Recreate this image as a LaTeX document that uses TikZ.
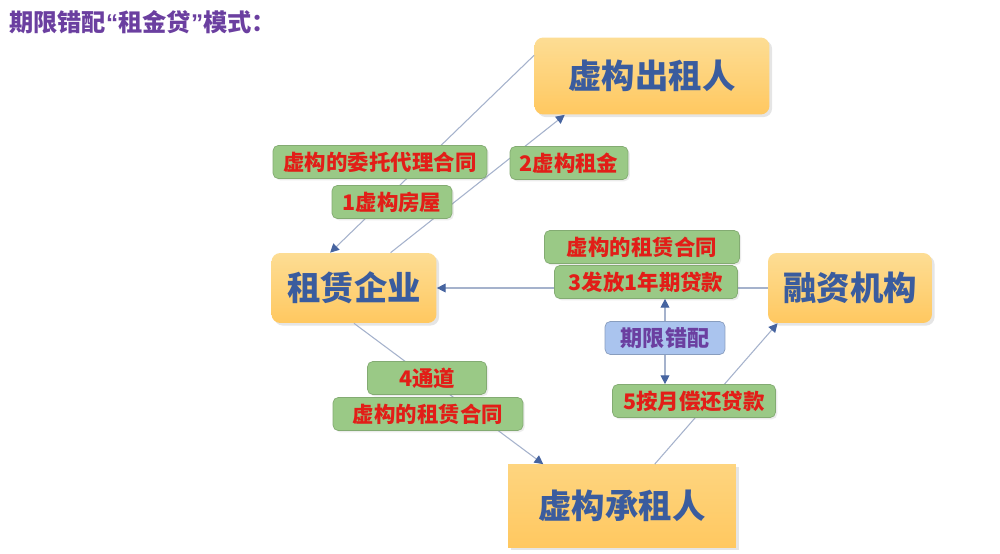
\documentclass[tikz,border=0pt]{standalone}
\usepackage{fontspec}
\setmainfont{Noto Sans CJK SC}
\newfontfamily\latinq{Liberation Sans}
\usetikzlibrary{arrows.meta,shadows}
\definecolor{titlepurple}{RGB}{107,63,160}
\definecolor{nodeblue}{RGB}{58,92,158}
\definecolor{orangetop}{RGB}{253,221,148}
\definecolor{orangebot}{RGB}{255,200,96}
\definecolor{lblgreen}{RGB}{154,201,134}
\definecolor{lblred}{RGB}{226,30,24}
\definecolor{lblblue}{RGB}{170,196,238}
\definecolor{linegray}{RGB}{165,178,204}
\definecolor{tipblue}{RGB}{70,100,160}
\begin{document}
\begin{tikzpicture}[
        x=0.02cm, y=-0.02cm,
        actor/.style={
            rectangle,
            rounded corners=5pt,
            top color=orangetop,
            bottom color=orangebot,
            draw=none,
            text=nodeblue,
            inner sep=0pt,
            drop shadow={shadow xshift=1.5pt, shadow yshift=-1.5pt, opacity=0.2},
            font=\fontsize{19}{22}\selectfont\bfseries
        },
        tag/.style={
            rectangle,
            rounded corners=3pt,
            fill=lblgreen,
            draw=lblgreen!85!black,
            thin,
            text=lblred,
            inner sep=0pt,
            minimum height=0.66cm,
            drop shadow={shadow xshift=1pt, shadow yshift=-1pt, opacity=0.15},
            font=\fontsize{12.2}{14}\selectfont\bfseries
        },
        bluetag/.style={
            rectangle,
            rounded corners=3pt,
            fill=lblblue,
            draw=lblblue!80!black,
            thin,
            text=titlepurple,
            inner sep=0pt,
            minimum width=2.4cm,
            minimum height=0.66cm,
            font=\fontsize{12.6}{14}\selectfont\bfseries
        },
        link/.style={-{Triangle[length=5pt, width=5pt, color=tipblue]}, draw=linegray, line width=0.6pt}
    ]
    \useasboundingbox[fill=white] (0,0) rectangle (1000,554);

    % Titulo
    \node[anchor=west, text=titlepurple, font=\fontsize{13.8}{16}\selectfont\bfseries] (titulo) at (3,22) {期限错配{\latinq “}租金贷{\latinq ”}模式：};

    % Nodos principales
    \node[actor, minimum width=4.7cm, minimum height=1.54cm] (chuzu) at (652,76) {虚构出租人};
    \node[actor, minimum width=3.3cm, minimum height=1.4cm] (qiye) at (354,288) {租赁企业};
    \node[actor, minimum width=3.28cm, minimum height=1.4cm] (rongzi) at (850,288) {融资机构};
    \node[actor, rounded corners=0pt, top color=orangetop!60!orangebot, minimum width=4.56cm, minimum height=1.66cm] (chengzu) at (622,506) {虚构承租人};

    % Conexiones
    \draw[link] (chuzu.170) -- (qiye.124);
    \draw[link] (qiye.44) -- (chuzu.204);
    \draw[link] (rongzi.west) -- (qiye.east);
    \draw[link] (qiye.south) -- (chengzu.152);
    \draw[link] (chengzu.52) -- (rongzi.206);

    % Etiquetas
    \node[tag, minimum width=4.28cm] (weituo) at (380,162) {虚构的委托代理合同};
    \node[tag, minimum width=2.4cm] (fangwu) at (392,202) {1虚构房屋};
    \node[tag, minimum width=2.36cm] (zujin) at (569,163) {2虚构租金};
    \node[tag, minimum width=3.9cm] (hetong) at (642,247) {虚构的租赁合同};
    \node[tag, minimum width=3.66cm] (daikuan) at (646,282) {3发放1年期贷款};
    \node[tag, minimum width=2.38cm] (tongdao) at (427,378) {4通道};
    \node[tag, minimum width=3.8cm] (zulin) at (428,414) {虚构的租赁合同};
    \node[tag, minimum width=3.26cm] (changhuan) at (694,401) {5按月偿还贷款};
    \node[bluetag] (cuopei) at (665,338) {期限错配};

    \draw[link] (cuopei.north) -- (cuopei.north |- daikuan.south);
    \draw[link] (cuopei.south) -- (cuopei.south |- changhuan.north);
\end{tikzpicture}
\end{document}
